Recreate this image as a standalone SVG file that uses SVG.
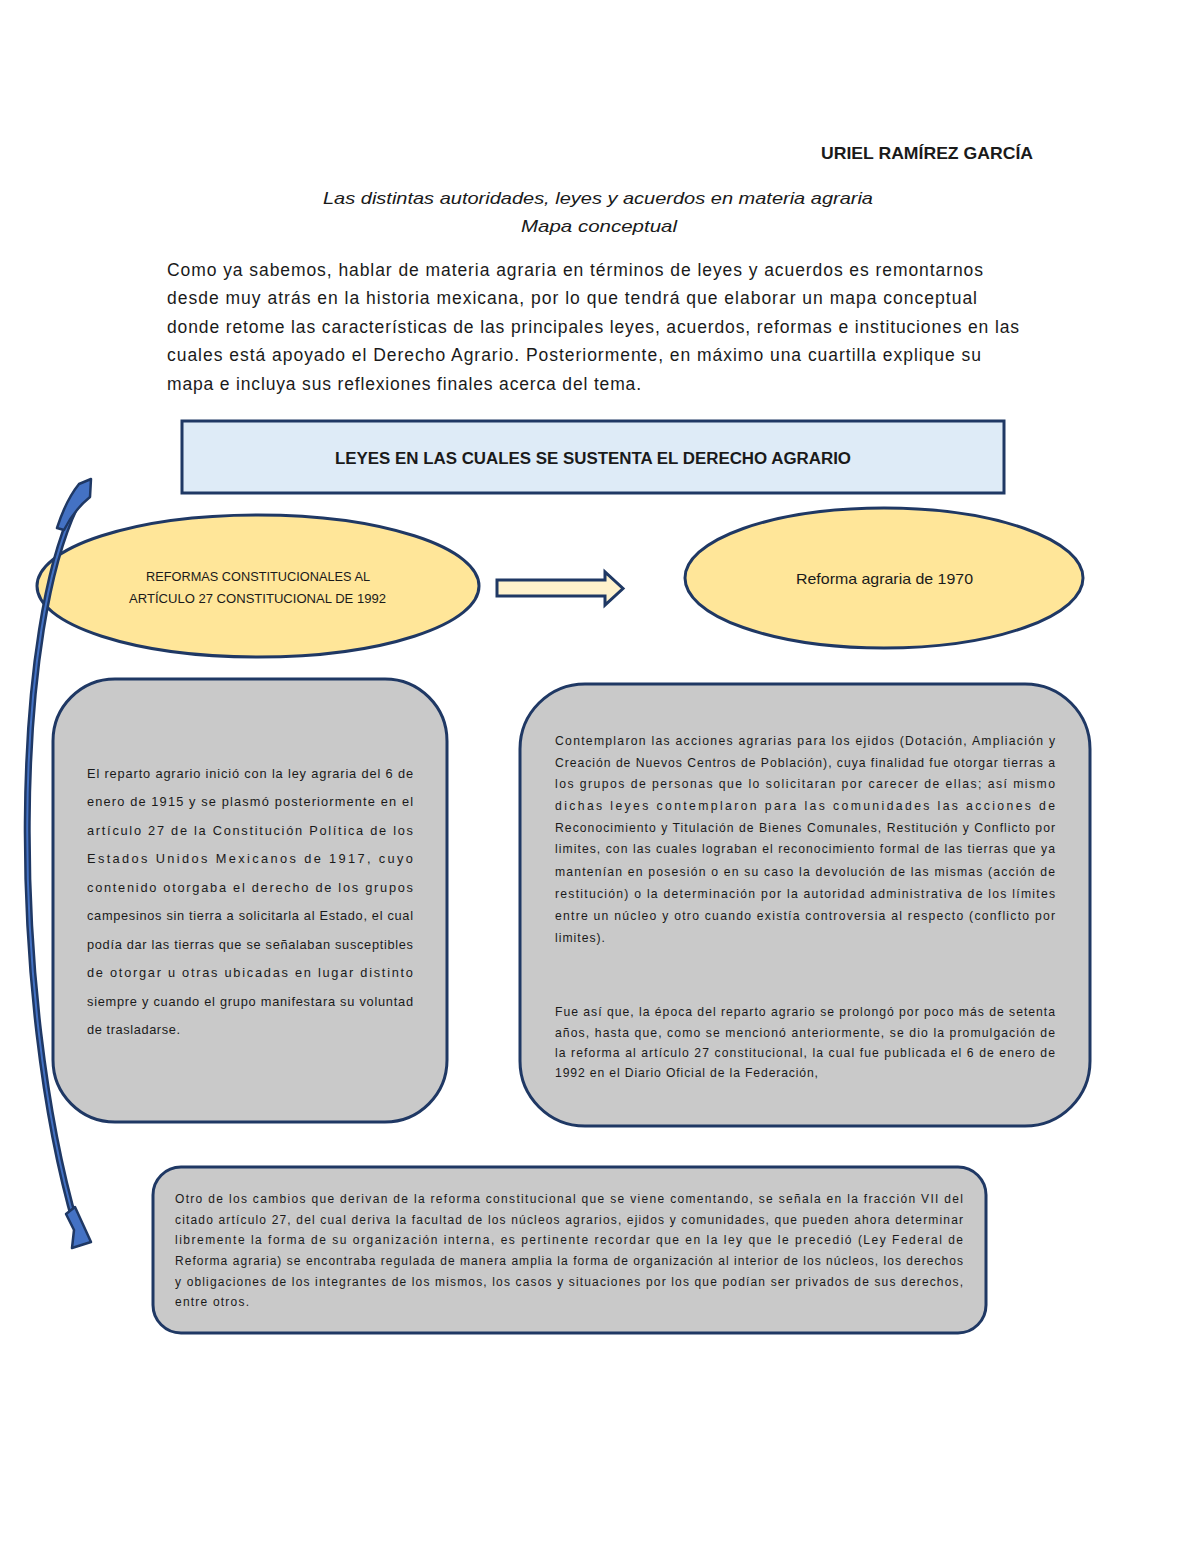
<svg xmlns="http://www.w3.org/2000/svg" width="1200" height="1553" viewBox="0 0 1200 1553">
<style>
.t{font-family:"Liberation Sans",Arial,sans-serif;fill:#1a1a1a}
.b{font-weight:bold}
.i{font-style:italic}
.p{font-size:17.5px}
.s1{font-size:12.8px}
.s2{font-size:12.2px}
.s3{font-size:12px}
.nav{stroke:#1f3864;stroke-width:3}
</style>
<rect width="1200" height="1553" fill="#ffffff"/>
<g id="header">
<text class="t b" x="821" y="159" font-size="16.5" textLength="212" lengthAdjust="spacingAndGlyphs">URIEL RAMÍREZ GARCÍA</text>
<text class="t i" x="323" y="204" font-size="17" textLength="550" lengthAdjust="spacingAndGlyphs">Las distintas autoridades, leyes y acuerdos en materia agraria</text>
<text class="t i" x="521" y="232" font-size="17" textLength="156" lengthAdjust="spacingAndGlyphs">Mapa conceptual</text>
</g>
<g id="intro">
<text class="t p" x="167" y="276" textLength="816" lengthAdjust="spacing">Como ya sabemos, hablar de materia agraria en términos de leyes y acuerdos es remontarnos</text>
<text class="t p" x="167" y="304" textLength="810" lengthAdjust="spacing">desde muy atrás en la historia mexicana, por lo que tendrá que elaborar un mapa conceptual</text>
<text class="t p" x="167" y="333" textLength="852" lengthAdjust="spacing">donde retome las características de las principales leyes, acuerdos, reformas e instituciones en las</text>
<text class="t p" x="167" y="361" textLength="814" lengthAdjust="spacing">cuales está apoyado el Derecho Agrario. Posteriormente, en máximo una cuartilla explique su</text>
<text class="t p" x="167" y="390" textLength="474" lengthAdjust="spacing">mapa e incluya sus reflexiones finales acerca del tema.</text>
</g>
<g id="title-box">
<rect x="182" y="421" width="822" height="72" fill="#deebf7" class="nav"/>
<text class="t b" x="335" y="464" font-size="16" textLength="516" lengthAdjust="spacingAndGlyphs">LEYES EN LAS CUALES SE SUSTENTA EL DERECHO AGRARIO</text>
</g>
<g id="ellipse-1992">
<ellipse cx="258" cy="586" rx="221" ry="71" fill="#ffe699" class="nav"/>
<text class="t" x="146" y="581" font-size="12.5" textLength="224" lengthAdjust="spacingAndGlyphs">REFORMAS CONSTITUCIONALES AL</text>
<text class="t" x="129" y="603" font-size="12.5" textLength="257" lengthAdjust="spacingAndGlyphs">ARTÍCULO 27 CONSTITUCIONAL DE 1992</text>
</g>
<g id="ellipse-1970">
<ellipse cx="884" cy="578" rx="199" ry="70" fill="#ffe699" class="nav"/>
<text class="t" x="796" y="584" font-size="15" textLength="177" lengthAdjust="spacingAndGlyphs">Reforma agraria de 1970</text>
</g>
<g id="box-left">
<rect x="53" y="679" width="394" height="443" rx="62" ry="62" fill="#c9c9c9" class="nav"/>
<g class="t s1">
<text x="87" y="778" textLength="326" lengthAdjust="spacing">El reparto agrario inició con la ley agraria del 6 de</text>
<text x="87" y="806" textLength="326" lengthAdjust="spacing">enero de 1915 y se plasmó posteriormente en el</text>
<text x="87" y="835" textLength="326" lengthAdjust="spacing">artículo 27 de la Constitución Política de los</text>
<text x="87" y="863" textLength="326" lengthAdjust="spacing">Estados Unidos Mexicanos de 1917, cuyo</text>
<text x="87" y="892" textLength="326" lengthAdjust="spacing">contenido otorgaba el derecho de los grupos</text>
<text x="87" y="920" textLength="326" lengthAdjust="spacing">campesinos sin tierra a solicitarla al Estado, el cual</text>
<text x="87" y="949" textLength="326" lengthAdjust="spacing">podía dar las tierras que se señalaban susceptibles</text>
<text x="87" y="977" textLength="326" lengthAdjust="spacing">de otorgar u otras ubicadas en lugar distinto</text>
<text x="87" y="1006" textLength="326" lengthAdjust="spacing">siempre y cuando el grupo manifestara su voluntad</text>
<text x="87" y="1034" textLength="93" lengthAdjust="spacing">de trasladarse.</text>
</g>
</g>
<g id="box-right">
<rect x="520" y="684" width="570" height="442" rx="65" ry="65" fill="#c9c9c9" class="nav"/>
<g class="t s2">
<text x="555" y="745" textLength="500" lengthAdjust="spacing">Contemplaron las acciones agrarias para los ejidos (Dotación, Ampliación y</text>
<text x="555" y="767" textLength="500" lengthAdjust="spacing">Creación de Nuevos Centros de Población), cuya finalidad fue otorgar tierras a</text>
<text x="555" y="788" textLength="500" lengthAdjust="spacing">los grupos de personas que lo solicitaran por carecer de ellas; así mismo</text>
<text x="555" y="810" textLength="500" lengthAdjust="spacing">dichas leyes contemplaron para las comunidades las acciones de</text>
<text x="555" y="832" textLength="500" lengthAdjust="spacing">Reconocimiento y Titulación de Bienes Comunales, Restitución y Conflicto por</text>
<text x="555" y="853" textLength="500" lengthAdjust="spacing">limites, con las cuales lograban el reconocimiento formal de las tierras que ya</text>
<text x="555" y="876" textLength="500" lengthAdjust="spacing">mantenían en posesión o en su caso la devolución de las mismas (acción de</text>
<text x="555" y="898" textLength="500" lengthAdjust="spacing">restitución) o la determinación por la autoridad administrativa de los límites</text>
<text x="555" y="920" textLength="500" lengthAdjust="spacing">entre un núcleo y otro cuando existía controversia al respecto (conflicto por</text>
<text x="555" y="942" textLength="50" lengthAdjust="spacing">limites).</text>
<text x="555" y="1016" textLength="500" lengthAdjust="spacing">Fue así que, la época del reparto agrario se prolongó por poco más de setenta</text>
<text x="555" y="1037" textLength="500" lengthAdjust="spacing">años, hasta que, como se mencionó anteriormente, se dio la promulgación de</text>
<text x="555" y="1057" textLength="500" lengthAdjust="spacing">la reforma al artículo 27 constitucional, la cual fue publicada el 6 de enero de</text>
<text x="555" y="1077" textLength="263" lengthAdjust="spacing">1992 en el Diario Oficial de la Federación,</text>
</g>
</g>
<g id="box-bottom">
<rect x="153" y="1167" width="833" height="166" rx="28" ry="28" fill="#c9c9c9" class="nav"/>
<g class="t s3">
<text x="175" y="1203" textLength="788" lengthAdjust="spacing">Otro de los cambios que derivan de la reforma constitucional que se viene comentando, se señala en la fracción VII del</text>
<text x="175" y="1224" textLength="788" lengthAdjust="spacing">citado artículo 27, del cual deriva la facultad de los núcleos agrarios, ejidos y comunidades, que pueden ahora determinar</text>
<text x="175" y="1244" textLength="788" lengthAdjust="spacing">libremente la forma de su organización interna, es pertinente recordar que en la ley que le precedió (Ley Federal de</text>
<text x="175" y="1265" textLength="788" lengthAdjust="spacing">Reforma agraria) se encontraba regulada de manera amplia la forma de organización al interior de los núcleos, los derechos</text>
<text x="175" y="1286" textLength="788" lengthAdjust="spacing">y obligaciones de los integrantes de los mismos, los casos y situaciones por los que podían ser privados de sus derechos,</text>
<text x="175" y="1306" textLength="74" lengthAdjust="spacing">entre otros.</text>
</g>
</g>
<g id="connectors">
<path d="M497 580 H605 V572 L623 588.5 L605 605 V596 H497 Z" fill="#fff2cc" stroke="#1f3864" stroke-width="3" stroke-linejoin="miter"/>
<path d="M82 494 C10 620, 10 1000, 76 1226" fill="none" stroke="#1f3864" stroke-width="7" stroke-linecap="round"/>
<path d="M82 494 C10 620, 10 1000, 76 1226" fill="none" stroke="#4472c4" stroke-width="2"/>
<path d="M91 479 L90 497 Q74 510 64 530 L57 528 Q66 500 79 484 Z" fill="#4472c4" stroke="#1f3864" stroke-width="2.5" stroke-linejoin="round"/>
<path d="M66 1214 L75 1207 L91 1242 L72 1248 L74 1230 Z" fill="#4472c4" stroke="#1f3864" stroke-width="2.5" stroke-linejoin="round"/>
</g>
</svg>
